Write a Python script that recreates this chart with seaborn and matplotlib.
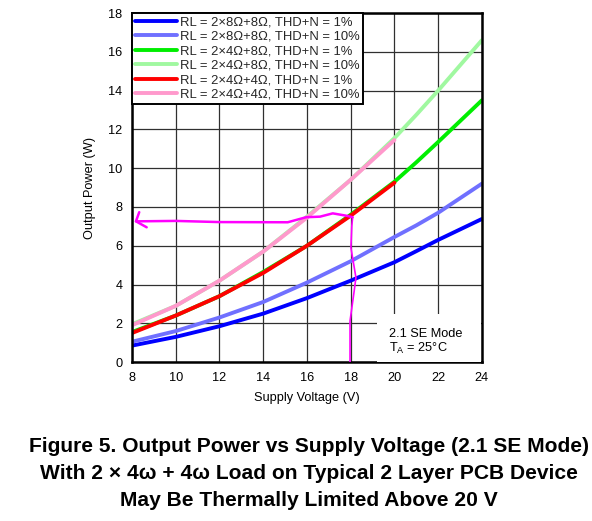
import numpy as np
import pandas as pd
import matplotlib
matplotlib.use("Agg")
import matplotlib.pyplot as plt
import seaborn as sns

# ---- data ----
v_full = [8, 10, 12, 14, 16, 18, 20, 21, 22, 24]
v_short = [8, 10, 12, 14, 16, 18, 20]

p_8_8_1 = [0.85, 1.30, 1.85, 2.50, 3.30, 4.20, 5.15, 5.72, 6.30, 7.38]
p_8_8_10 = [1.05, 1.60, 2.30, 3.10, 4.10, 5.20, 6.45, 7.05, 7.70, 9.20]
p_4_8_1 = [1.55, 2.40, 3.40, 4.65, 6.00, 7.60, 9.30, 10.30, 11.35, 13.50]
p_4_8_10 = [1.95, 2.90, 4.20, 5.70, 7.50, 9.40, 11.55, 12.75, 14.00, 16.60]
p_4_4_1 = [1.50, 2.40, 3.40, 4.60, 6.00, 7.55, 9.25]
p_4_4_10 = [1.90, 2.90, 4.20, 5.70, 7.45, 9.40, 11.45]

labels = [
    "RL = 2×8Ω+8Ω, THD+N = 1%",
    "RL = 2×8Ω+8Ω, THD+N = 10%",
    "RL = 2×4Ω+8Ω, THD+N = 1%",
    "RL = 2×4Ω+8Ω, THD+N = 10%",
    "RL = 2×4Ω+4Ω, THD+N = 1%",
    "RL = 2×4Ω+4Ω, THD+N = 10%",
]
colors = ["#0000FF", "#7070FF", "#00EE00", "#A0F8A0", "#FF0000", "#FF99CC"]

# hand-drawn magenta annotation (data coordinates)
ann_h_x = [18.09, 17.79, 17.18, 16.6, 15.96, 15.12, 12.0, 10.0, 8.36, 8.18]
ann_h_y = [7.47, 7.55, 7.67, 7.5, 7.47, 7.21, 7.22, 7.28, 7.26, 7.26]
ann_head_x = [8.33, 8.18, 8.67]
ann_head_y = [7.73, 7.26, 6.95]
ann_v_x = [17.97, 17.97, 18.16, 18.24, 18.01, 18.05, 18.09]
ann_v_y = [0.0, 2.12, 3.67, 4.36, 5.9, 7.0, 7.47]

title_lines = [
    "Figure 5. Output Power vs Supply Voltage (2.1 SE Mode)",
    "With 2 × 4ω + 4ω Load on Typical 2 Layer PCB Device",
    "May Be Thermally Limited Above 20 V",
]

series = [
    (v_full, p_8_8_1),
    (v_full, p_8_8_10),
    (v_full, p_4_8_1),
    (v_full, p_4_8_10),
    (v_short, p_4_4_1),
    (v_short, p_4_4_10),
]
frames = []
for lab, (vx, py) in zip(labels, series):
    frames.append(pd.DataFrame({"Supply Voltage (V)": vx, "Output Power (W)": py, "Load": lab}))
df = pd.concat(frames, ignore_index=True)

sns.set_theme(style="white")
plt.rcParams["font.family"] = ["Liberation Sans", "DejaVu Sans"]

fig = plt.figure(figsize=(5.92, 5.21), dpi=100)
ax = fig.add_axes([0.223, 0.305, 0.591, 0.670])

sns.lineplot(data=df, x="Supply Voltage (V)", y="Output Power (W)", hue="Load",
             hue_order=labels, palette=dict(zip(labels, colors)),
             linewidth=2.8, ax=ax, estimator=None, sort=True)

ax.set_xlim(8, 24)
ax.set_ylim(0, 18)
ax.set_xticks(np.arange(8, 25, 2))
ax.set_yticks(np.arange(0, 19, 2))
ax.grid(True, color="#303030", linewidth=0.9, zorder=0)
ax.set_axisbelow(True)
for s in ax.spines.values():
    s.set_color("black")
    s.set_linewidth(1.8)
ax.tick_params(axis="both", labelsize=9.2, colors="black", length=0, pad=7)
ax.set_xlabel("Supply Voltage (V)", fontsize=9.2, color="black", labelpad=6)
ax.set_ylabel("Output Power (W)", fontsize=9.2, color="black", labelpad=9)

leg = ax.legend(loc="upper left", fontsize=9.4, frameon=True, fancybox=False,
                borderaxespad=0, borderpad=0.25, handlelength=3.2, handletextpad=0.25,
                labelspacing=0.18)
leg.get_frame().set_edgecolor("black")
leg.get_frame().set_linewidth(1.4)
leg.get_frame().set_alpha(1)
for h in leg.get_lines():
    h.set_linewidth(2.8)

# magenta hand annotation
ax.plot(ann_h_x, ann_h_y, color="#FF00FF", linewidth=1.8, solid_capstyle="round", zorder=5)
ax.plot(ann_head_x, ann_head_y, color="#FF00FF", linewidth=1.8, solid_capstyle="round", zorder=5)
ax.plot(ann_v_x, ann_v_y, color="#FF00FF", linewidth=1.2, zorder=5)

# condition box
ax.fill_between([19.2, 23.97], 0.03, 2.48, color="white", zorder=4, linewidth=0)
ax.text(19.76, 0.3, "2.1 SE Mode\nT$_\\mathregular{A}$ = 25°C", fontsize=9.2,
        color="black", ha="left", va="bottom", zorder=6, linespacing=1.1)

title_y = [444, 471.5, 499]
for t, yy in zip(title_lines, title_y):
    fig.text(0.522, 1 - yy / 521, t, ha="center", va="center_baseline",
             fontsize=15.1, fontweight="bold", color="black")

fig.savefig("out.png", dpi=100, facecolor="white")
